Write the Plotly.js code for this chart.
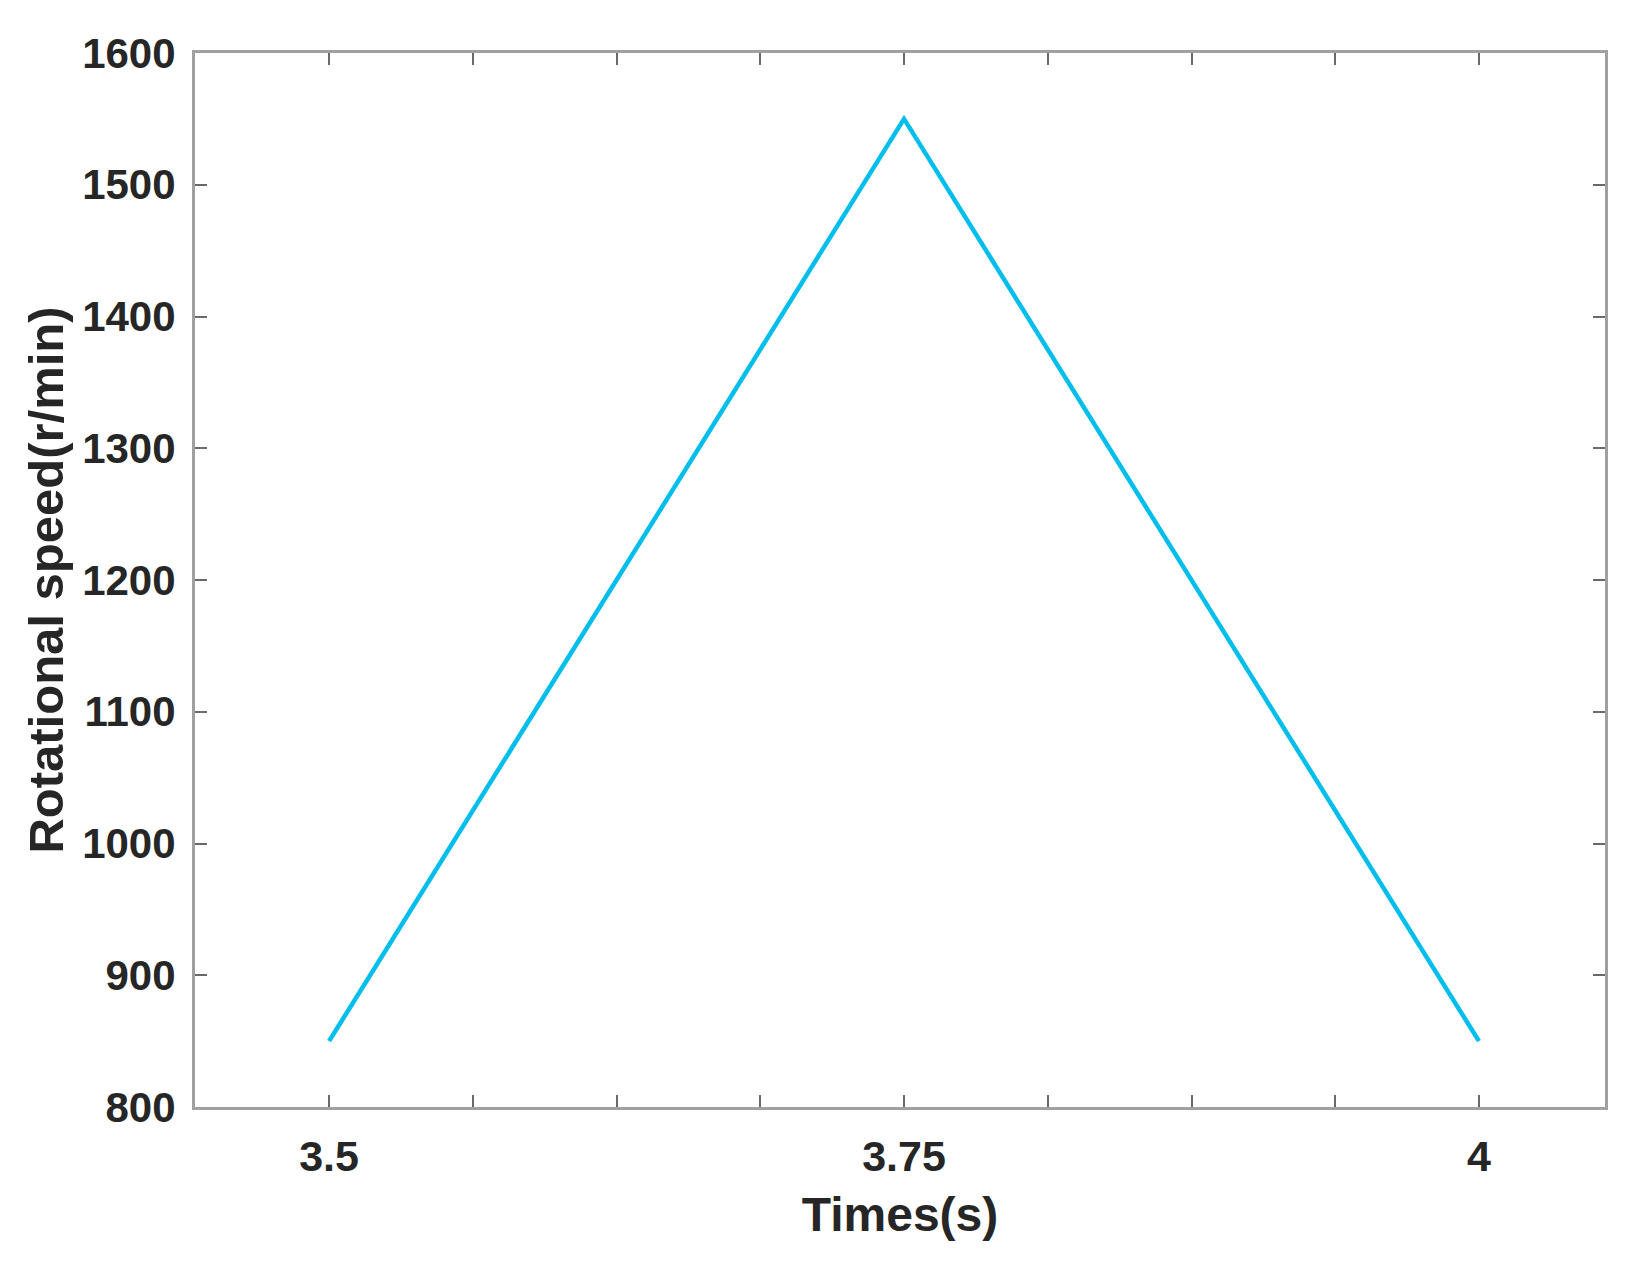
<!DOCTYPE html>
<html>
<head>
<meta charset="utf-8">
<script src="https://cdn.plot.ly/plotly-3.0.1.min.js"></script>
<style>html,body{margin:0;padding:0;background:#fff;}#chart{width:1638px;height:1266px;}</style>
</head>
<body>
<div id="chart"></div>
<script>
const timeValues = [3.5, 3.75, 4];
const speedValues = [850, 1550, 850];
const xTickValues = [3.5, 3.5625, 3.625, 3.6875, 3.75, 3.8125, 3.875, 3.9375, 4];
const xTickLabels = ['3.5', '', '', '', '3.75', '', '', '', '4'];
const yTickValues = [800, 900, 1000, 1100, 1200, 1300, 1400, 1500, 1600];
const yTickLabels = ['800', '900', '1000', '1100', '1200', '1300', '1400', '1500', '1600'];

const fontFam = 'Liberation Sans, Arial, sans-serif';
const trace = {
  x: timeValues, y: speedValues, type: 'scatter', mode: 'lines',
  line: {color: '#00BEEC', width: 4.5}, hoverinfo: 'skip'
};
const layout = {
  width: 1638, height: 1266,
  margin: {l: 195, r: 33, t: 53, b: 159},
  paper_bgcolor: '#fff', plot_bgcolor: '#fff',
  showlegend: false,
  font: {family: fontFam, color: '#262626'},
  xaxis: {
    range: [3.4417, 4.0548], tickmode: 'array', tickvals: xTickValues, ticktext: xTickLabels,
    ticks: 'inside', ticklen: 12, tickwidth: 2, tickcolor: '#6a6a6a',
    showline: true, linecolor: '#a0a0a0', linewidth: 3, mirror: 'ticks',
    showgrid: false, zeroline: false,
    tickfont: {family: fontFam, size: 43, color: '#262626', weight: 'bold'},
    ticklabelstandoff: 9,
    title: {text: '<b>Times(s)</b>', font: {family: fontFam, size: 48, color: '#262626'}, standoff: 19}
  },
  yaxis: {
    range: [800, 1600], tickmode: 'array', tickvals: yTickValues, ticktext: yTickLabels,
    ticks: 'inside', ticklen: 12, tickwidth: 2, tickcolor: '#6a6a6a',
    showline: true, linecolor: '#a0a0a0', linewidth: 3, mirror: 'ticks',
    showgrid: false, zeroline: false,
    tickfont: {family: fontFam, size: 42, color: '#262626', weight: 'bold'},
    ticklabelstandoff: 8,
    title: {text: '<b>Rotational speed(r/min)</b>', font: {family: fontFam, size: 49, color: '#262626'}, standoff: 4}
  }
};
Plotly.newPlot('chart', [trace], layout, {displayModeBar: false, staticPlot: true});
</script>
</body>
</html>
